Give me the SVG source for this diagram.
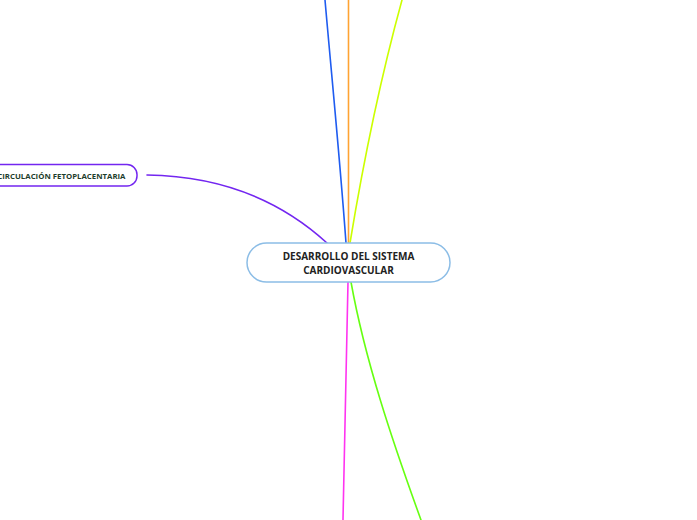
<svg xmlns="http://www.w3.org/2000/svg" width="697" height="520" viewBox="0 0 697 520">
<style>
.c{fill:none;stroke-width:1.6;stroke-linecap:round}
.t{font-family:"Open Sans","Liberation Sans",sans-serif;font-weight:bold;text-anchor:middle}
</style>
<rect width="697" height="520" fill="#fff"/>
<g id="connectors">
<path class="c" stroke="#1f5cf0" d="M325,0 C332,80 340,160 346,243"/>
<path class="c" stroke="#ffa332" d="M348.5,0 L348.5,243"/>
<path class="c" stroke="#ccff00" d="M402,0 C380,80 362,170 350,243"/>
<path class="c" stroke="#7326f0" d="M147,175 C220,176 280,200 327,243"/>
<path class="c" stroke="#ff33f0" d="M348,282 C346,360 344,440 343,520"/>
<path class="c" stroke="#66ff11" d="M351,282 C365,360 392,440 421,520"/>
</g>
<g id="main">
<rect x="247" y="243" width="203" height="39" rx="19.5" fill="#fff" stroke="#8cbde6" stroke-width="1.5"/>
<text class="t" x="348.5" y="260" font-size="10" fill="#222">DESARROLLO DEL SISTEMA</text>
<text class="t" x="348.5" y="274" font-size="10" fill="#222">CARDIOVASCULAR</text>
</g>
<g id="fetoplacentaria">
<rect x="-20" y="164.5" width="157" height="21.5" rx="10" fill="#fff" stroke="#7326f0" stroke-width="1.5"/>
<text class="t" x="125.5" y="178.5" font-size="7.8" fill="#1d3d2c" style="text-anchor:end">CIRCULACIÓN FETOPLACENTARIA</text>
</g>
</svg>
